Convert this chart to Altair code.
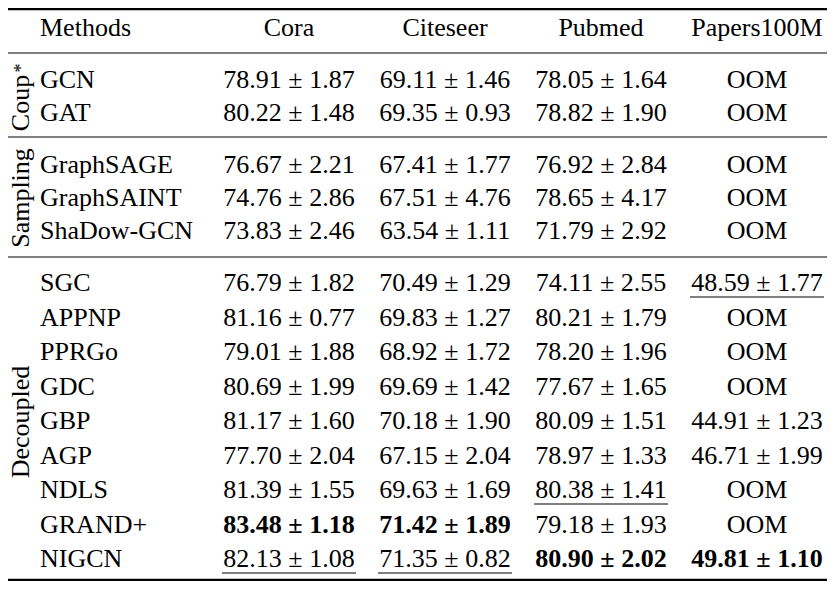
import altair as alt
import pandas as pd

# table contents
methods = ["GCN", "GAT", "GraphSAGE", "GraphSAINT", "ShaDow-GCN", "SGC", "APPNP",
           "PPRGo", "GDC", "GBP", "AGP", "NDLS", "GRAND+", "NIGCN"]
group_names = ["Coup", "Sampling", "Decoupled"]
group_sizes = [2, 3, 9]
datasets = ["Cora", "Citeseer", "Pubmed", "Papers100M"]

cora_mean = [78.91, 80.22, 76.67, 74.76, 73.83, 76.79, 81.16, 79.01, 80.69, 81.17, 77.70, 81.39, 83.48, 82.13]
cora_std = [1.87, 1.48, 2.21, 2.86, 2.46, 1.82, 0.77, 1.88, 1.99, 1.60, 2.04, 1.55, 1.18, 1.08]
citeseer_mean = [69.11, 69.35, 67.41, 67.51, 63.54, 70.49, 69.83, 68.92, 69.69, 70.18, 67.15, 69.63, 71.42, 71.35]
citeseer_std = [1.46, 0.93, 1.77, 4.76, 1.11, 1.29, 1.27, 1.72, 1.42, 1.90, 2.04, 1.69, 1.89, 0.82]
pubmed_mean = [78.05, 78.82, 76.92, 78.65, 71.79, 74.11, 80.21, 78.20, 77.67, 80.09, 78.97, 80.38, 79.18, 80.90]
pubmed_std = [1.64, 1.90, 2.84, 4.17, 2.92, 2.55, 1.79, 1.96, 1.65, 1.51, 1.33, 1.41, 1.93, 2.02]
papers_mean = [None, None, None, None, None, 48.59, None, None, None, 44.91, 46.71, None, None, 49.81]
papers_std = [None, None, None, None, None, 1.77, None, None, None, 1.23, 1.99, None, None, 1.10]

best = [("GRAND+", "Cora"), ("GRAND+", "Citeseer"), ("NIGCN", "Pubmed"), ("NIGCN", "Papers100M")]
second = [("NIGCN", "Cora"), ("NIGCN", "Citeseer"), ("NDLS", "Pubmed"), ("SGC", "Papers100M")]

# layout (page pixels)
FONT = "Liberation Serif"
FS = 26
col_x = {"Cora": 289, "Citeseer": 445, "Pubmed": 601, "Papers100M": 757}
method_x = 40
header_y = 28
group_first_y = [80, 165, 283]
group_pitch = [33, 33, 34.5]
group_label_x = 29
group_label_y = [103, 198, 422]
rules = [(9, 2.4), (53, 1.1), (137, 1.1), (257, 1.1), (580, 2.4)]
half_under = 67

means = [cora_mean, citeseer_mean, pubmed_mean, papers_mean]
stds = [cora_std, citeseer_std, pubmed_std, papers_std]

row_y = []
for first, pitch, n in zip(group_first_y, group_pitch, group_sizes):
    row_y += [first + pitch * k for k in range(n)]

cells = []
for i, m in enumerate(methods):
    for d, mu, sd in zip(datasets, means, stds):
        txt = "OOM" if mu[i] is None else f"{mu[i]:.2f} ± {sd[i]:.2f}"
        cells.append({"method": m, "dataset": d, "label": txt,
                      "x": col_x[d], "y": row_y[i],
                      "bold": (m, d) in best, "under": (m, d) in second})
cells = pd.DataFrame(cells)

rows = pd.DataFrame({"label": methods, "x": method_x, "y": row_y})
header = pd.DataFrame({"label": ["Methods"] + datasets,
                       "x": [method_x] + [col_x[d] for d in datasets],
                       "y": header_y,
                       "side": ["left"] + ["center"] * 4})
groups = pd.DataFrame({"label": group_names, "x": group_label_x, "y": group_label_y})
rule_df = pd.DataFrame({"y": [r[0] for r in rules], "w": [r[1] for r in rules],
                        "x": 8, "x2": 827})
under = cells[cells["under"]].assign(x1=lambda t: t.x - half_under,
                                     x2=lambda t: t.x + half_under,
                                     y=lambda t: t.y + 14)

xs = alt.Scale(domain=[8, 827])
ys = alt.Scale(domain=[8, 581], reverse=True)
X = lambda f="x": alt.X(f"{f}:Q", scale=xs, axis=None)
Y = lambda f="y": alt.Y(f"{f}:Q", scale=ys, axis=None)

txt = dict(font=FONT, fontSize=FS, color="black", baseline="middle")

values = alt.Chart(cells[~cells["bold"]]).mark_text(align="center", **txt).encode(
    x=X(), y=Y(), text="label:N")
values_bold = alt.Chart(cells[cells["bold"]]).mark_text(align="center", fontWeight="bold", **txt).encode(
    x=X(), y=Y(), text="label:N")
names = alt.Chart(rows).mark_text(align="left", **txt).encode(x=X(), y=Y(), text="label:N")
head_left = alt.Chart(header[header["side"] == "left"]).mark_text(align="left", **txt).encode(
    x=X(), y=Y(), text="label:N")
head_center = alt.Chart(header[header["side"] == "center"]).mark_text(align="center", **txt).encode(
    x=X(), y=Y(), text="label:N")
group_text = alt.Chart(groups).mark_text(
    font=FONT, fontSize=FS, color="black", angle=270, align="center", baseline="alphabetic"
).encode(x=X(), y=Y(), text="label:N")
# superscript asterisk after "Coup"
star = alt.Chart(pd.DataFrame({"label": ["*"], "x": [group_label_x - 2], "y": [68]})).mark_text(
    font=FONT, fontSize=18, color="black", angle=270, align="center", baseline="alphabetic"
).encode(x=X(), y=Y(), text="label:N")
hrules = alt.Chart(rule_df).mark_rule(color="black").encode(
    x=X(), x2="x2:Q", y=Y(), strokeWidth=alt.StrokeWidth("w:Q", scale=None))
ulines = alt.Chart(under).mark_rule(color="black", strokeWidth=1.1).encode(
    x=X("x1"), x2="x2:Q", y=Y())

chart = alt.layer(
    hrules, ulines, head_left, head_center, names, values, values_bold, group_text, star
).properties(
    width=819, height=573, padding=0,
    autosize=alt.AutoSizeParams(type="none"),
    background="white",
).configure_view(strokeWidth=0)

chart.save("out.html", embed_options={"renderer": "svg", "actions": False})
